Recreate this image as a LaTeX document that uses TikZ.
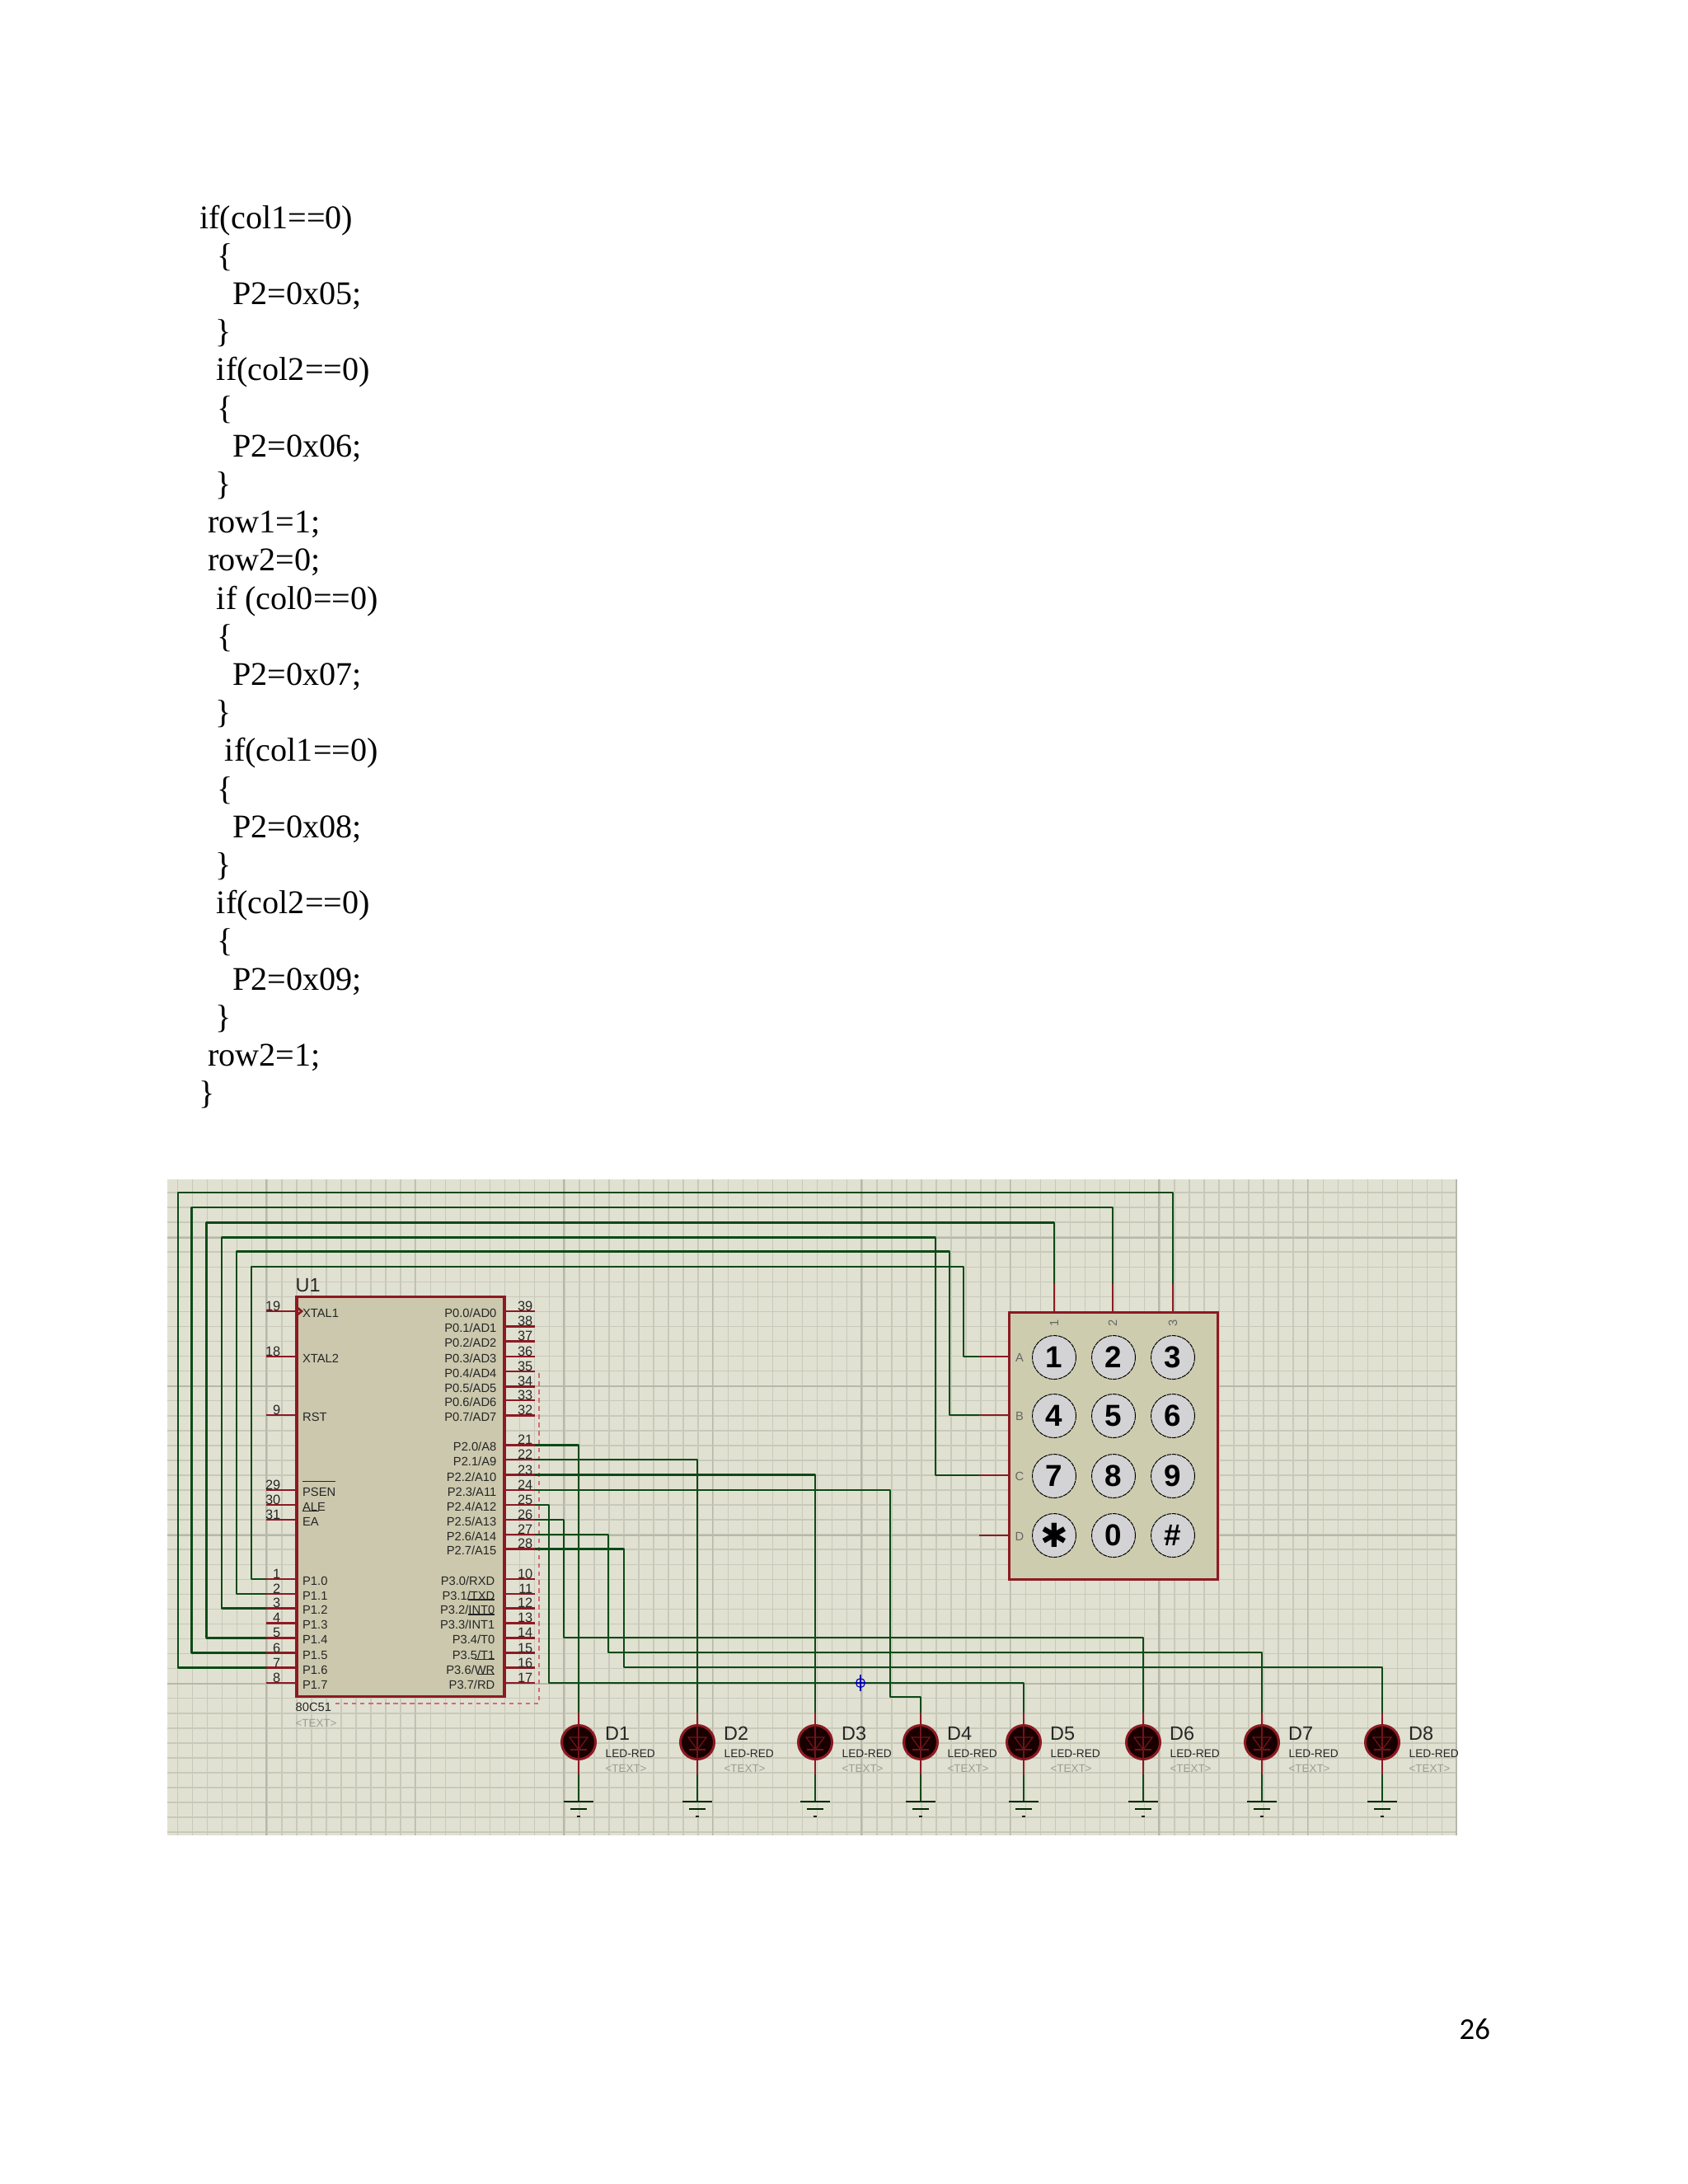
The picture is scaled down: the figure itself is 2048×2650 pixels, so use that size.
\documentclass[tikz,border=0pt]{standalone}
\usepackage{fontspec}
\setmainfont{Liberation Serif}
\newfontfamily\lblfont{Liberation Sans}
\newfontfamily\pagefont{Carlito}
\newfontfamily\symfont{DejaVu Sans}
\usepackage{xcolor}
\usepackage{tikz}
\usetikzlibrary{positioning,calc}
\def\pxu{0.29885pt}
\definecolor{sheetbg}{HTML}{E1E1D2}
\definecolor{sheetgrid}{HTML}{C8C9BA}
\definecolor{sheetmajor}{HTML}{B6B8AA}
\definecolor{chipfill}{HTML}{CBC8AD}
\definecolor{padfill}{HTML}{CDCCAE}
\definecolor{btnfill}{HTML}{D3D3D6}
\definecolor{wiregreen}{HTML}{0C4A16}
\definecolor{pinred}{HTML}{8C1A22}
\definecolor{dashred}{HTML}{D46A78}
\definecolor{lbltext}{HTML}{262626}
\definecolor{greytext}{HTML}{9C9C90}
\newcommand{\ovl}[1]{$\overline{\mbox{\rule{0pt}{3.9pt}#1}}$}
\tikzset{
codeline/.style={anchor=base west,inner sep=0pt,font=\fontsize{12}{14}\selectfont},
gridline/.style={draw=sheetgrid,line width=0.45pt},
majorline/.style={draw=sheetmajor,line width=0.55pt},
wire/.style={draw=wiregreen,line width=0.8pt,line join=round},
pinline/.style={draw=pinred,line width=0.8pt},
lbl/.style={inner sep=0pt,text=lbltext,font=\lblfont\fontsize{4.4}{5}\selectfont},
numlbl/.style={lbl,anchor=base east,font=\lblfont\fontsize{4.9}{5}\selectfont},
devname/.style={lbl,anchor=base west,font=\lblfont\fontsize{7}{8}\selectfont},
ledval/.style={lbl,anchor=base west,font=\lblfont\fontsize{4.1}{5}\selectfont},
greylbl/.style={lbl,anchor=base west,text=greytext,font=\lblfont\fontsize{4}{5}\selectfont},
chipbox/.style={draw=pinred,fill=chipfill,line width=0.9pt,outer sep=0pt,inner sep=0pt},
btn/.style={circle,draw=black,fill=btnfill,line width=0.3pt,dash pattern=on 1.6pt off 0.25pt,
  minimum size=53*\pxu,inner sep=0pt,outer sep=0pt,font=\lblfont\bfseries\fontsize{11}{12}\selectfont},
ledbody/.style={circle,draw=pinred,fill=black!90!red,line width=0.9pt,minimum size=41*\pxu,inner sep=0pt,outer sep=0pt},
diode/.style={draw=pinred!80!black,line width=0.35pt}
}
\begin{document}
\begin{tikzpicture}[x=\pxu,y=-\pxu]
\path[fill=white,use as bounding box] (0,0) rectangle (2048,2650);
\foreach \idx/\xx/\txt in {1/241.7/{if(col1==0)},2/262.7/{\{},3/281.7/{P2=0x05;},4/260.5/{\}},
5/262.3/{if(col2==0)},6/262.7/{\{},7/281.7/{P2=0x06;},8/260.5/{\}},
9/251.7/{row1=1;},10/251.7/{row2=0;},11/262.3/{if (col0==0)},12/262.7/{\{},13/281.7/{P2=0x07;},14/260.5/{\}},
15/272.3/{if(col1==0)},16/262.7/{\{},17/281.7/{P2=0x08;},18/260.5/{\}},
19/262.3/{if(col2==0)},20/262.7/{\{},21/281.7/{P2=0x09;},22/260.5/{\}},
23/251.7/{row2=1;},24/241/{\}}}
  \node[codeline] (code\idx) at (\xx,{277+(\idx-1)*46.2}) {\txt};
\node[anchor=base west,inner sep=0pt,font=\pagefont\fontsize{11}{13}\selectfont] (pagenum) at (1770,2474) {26};

\fill[sheetbg] (203,1431) rectangle (1767,2227);
\foreach \k in {-4,...,81}
  \draw[gridline] ({1677.5-\k*18.05},1431) -- ({1677.5-\k*18.05},2227);
\foreach \k in {0,...,43}
  \draw[gridline] (203,{1447+\k*18.05}) -- (1767,{1447+\k*18.05});
\foreach \k in {0,...,7}
  \draw[majorline] ({323+\k*180.5},1431) -- ({323+\k*180.5},2227);
\foreach \k in {0,...,3}
  \draw[majorline] (203,{1501.7+\k*180.5}) -- (1767,{1501.7+\k*180.5});
\draw[majorline,line width=0.7pt] (1767,1431) -- (1767,2227);

\node[chipbox,minimum width=252*\pxu,minimum height=485*\pxu] (U1) at (486,1815.5) {};
\node[devname] (U1name) at (358,1567) {U1};
\node[lbl,anchor=base west] (U1type) at (358,2076) {80C51};
\node[greylbl] (U1text) at (358,2095) {<TEXT>};
\foreach \num/\yy/\txt in {19/1591/XTAL1,18/1646/XTAL2,9/1717/RST,29/1808/\ovl{PSEN},30/1826/ALE,31/1844/\ovl{EA},
1/1916/P1.0,2/1934/P1.1,3/1951.3/P1.2,4/1969.3/P1.3,5/1987.3/P1.4,6/2005.7/P1.5,7/2023.7/P1.6,8/2042/P1.7}{
  \coordinate (pinL\num) at (323,\yy);
  \draw[pinline] (pinL\num) -- (pinL\num -| U1.west);
  \node[numlbl] (numL\num) at (341,\yy-0.5) {\num};
  \node[lbl,anchor=base west] (txtL\num) at (366.5,\yy+7.5) {\txt};
}
\foreach \num/\yy/\txt in {39/1591/{P0.0/AD0},38/1609.3/{P0.1/AD1},37/1627.3/{P0.2/AD2},36/1646/{P0.3/AD3},
35/1664/{P0.4/AD4},34/1682.3/{P0.5/AD5},33/1699/{P0.6/AD6},32/1717.3/{P0.7/AD7},
21/1753.3/{P2.0/A8},22/1771/{P2.1/A9},23/1789.7/{P2.2/A10},24/1808/{P2.3/A11},
25/1826/{P2.4/A12},26/1844/{P2.5/A13},27/1862/{P2.6/A14},28/1879.3/{P2.7/A15}}{
  \coordinate (pinR\num) at (649,\yy);
  \draw[pinline] (pinR\num) -- (pinR\num -| U1.east);
  \node[numlbl] (numR\num) at (647,\yy-0.5) {\num};
  \node[lbl,anchor=base east] (txtR\num) at (603,\yy+7.5) {\txt};
}
\foreach \num/\yy/\txt in {10/1916/{P3.0/RXD},11/1934/{P3.1/TXD},12/1951.3/{P3.2/\ovl{INT0}},13/1969.3/{P3.3/\ovl{INT1}},
14/1987.3/{P3.4/T0},15/2005.7/{P3.5/T1},16/2023.7/{P3.6/\ovl{WR}},17/2042/{P3.7/\ovl{RD}}}{
  \coordinate (pinR\num) at (649,\yy);
  \draw[pinline] (pinR\num) -- (pinR\num -| U1.east);
  \node[numlbl] (numR\num) at (647,\yy-0.5) {\num};
  \node[lbl,anchor=base east] (txtR\num) at (601,\yy+7.5) {\txt};
}
\draw[pinline] ($(pinL19 -| U1.west)+(0,-5)$) -- ($(pinL19 -| U1.west)+(6,0)$) -- ($(pinL19 -| U1.west)+(0,5)$);
\coordinate (dashA) at (407,2067);
\coordinate (dashB) at (654,2067);
\coordinate (dashC) at (654,1665);
\draw[dashred,line width=0.45pt,dash pattern=on 1.6pt off 1.4pt] (dashA) -- (dashB) -- (dashC);

\node[chipbox,fill=padfill,minimum width=253*\pxu,minimum height=324*\pxu] (KP) at (1350.5,1754) {};
\foreach \rowname/\yy in {A/1646,B/1717,C/1790,D/1863}{
  \coordinate (row\rowname) at (1188,\yy);
  \draw[pinline] (row\rowname) -- (row\rowname -| KP.west);
  \node[lbl,text=lbltext!70] (lbl\rowname) at (1237,\yy+1) {\rowname};
}
\foreach \colnum/\xx in {1/1279,2/1350,3/1423}{
  \coordinate (col\colnum) at (\xx,1558);
  \draw[pinline] (col\colnum) -- (col\colnum |- KP.north);
  \node[lbl,text=lbltext!70,rotate=90] (lblc\colnum) at (\xx,1605) {\colnum};
}
\node[btn] (b1) at (1279,1647) {1};
\node[btn] (b2) at (1351,1647) {2};
\node[btn] (b3) at (1423,1647) {3};
\node[btn] (b4) at (1279,1718) {4};
\node[btn] (b5) at (1351,1718) {5};
\node[btn] (b6) at (1423,1718) {6};
\node[btn] (b7) at (1279,1791) {7};
\node[btn] (b8) at (1351,1791) {8};
\node[btn] (b9) at (1423,1791) {9};
\node[btn,font=\symfont\fontsize{12}{12}\selectfont] (bstar) at (1279,1863) {✱};
\node[btn] (b0) at (1351,1863) {0};
\node[btn] (bhash) at (1423,1863) {\#};

\coordinate (wa) at (305,1537);
\coordinate (wb) at (287,1518.3);
\coordinate (wc) at (269,1501.7);
\coordinate (wd) at (250.7,1483.3);
\coordinate (we) at (232.3,1465);
\coordinate (wf) at (216,1447);
\coordinate (wg) at (1169,1537);
\coordinate (wh) at (1152,1518.3);
\coordinate (wi) at (1135,1501.7);
\draw[wire] (pinL1) -| (wa) -- (wg) |- (rowA);
\draw[wire] (pinL2) -| (wb) -- (wh) |- (rowB);
\draw[wire] (pinL3) -| (wc) -- (wi) |- (rowC);
\draw[wire] (pinL5) -| (wd) -| (col1);
\draw[wire] (pinL6) -| (we) -| (col2);
\draw[wire] (pinL7) -| (wf) -| (col3);

\foreach \n/\xx in {1/702,2/846,3/989,4/1117,5/1242,6/1387,7/1531,8/1677}{
  \node[ledbody] (D\n) at (\xx,2114) {};
  \coordinate (in\n) at (\xx,2078);
  \coordinate (out\n) at (\xx,2153);
  \coordinate (gnd\n) at (\xx,2186);
  \draw[pinline] (in\n) -- (D\n.north);
  \draw[pinline] (D\n.south) -- (out\n);
  \draw[wire] (out\n) -- (gnd\n);
  \draw[diode] (D\n.north) -- (D\n.south);
  \draw[diode] (\xx-11,2108) -- (\xx+11,2108) -- (\xx,2123) -- cycle;
  \draw[diode] (\xx-10,2123) -- (\xx+10,2123);
  \draw[wire,draw=black!85!green] (\xx-18,2186) -- (\xx+18,2186);
  \draw[wire,draw=black!85!green] (\xx-10,2195) -- (\xx+10,2195);
  \draw[wire,draw=black!85!green] (\xx-2,2204) -- (\xx+2,2204);
  \node[devname] (name\n) at (\xx+31.5,2111.7) {D\n};
  \node[ledval] (val\n) at (\xx+32,2132.7) {LED-RED};
  \node[greylbl] (txt\n) at (\xx+32,2150) {<TEXT>};
}
\coordinate (k4) at (1080,2059);
\coordinate (k5) at (666,2042);
\coordinate (k6) at (684,1987);
\coordinate (k7) at (738,2005);
\coordinate (k8) at (757,2023);
\draw[wire] (pinR21) -| (in1);
\draw[wire] (pinR22) -| (in2);
\draw[wire] (pinR23) -| (in3);
\draw[wire] (pinR24) -| (k4) -| (in4);
\draw[wire] (pinR25) -| (k5) -| (in5);
\draw[wire] (pinR26) -| (k6) -| (in6);
\draw[wire] (pinR27) -| (k7) -| (in7);
\draw[wire] (pinR28) -| (k8) -| (in8);

\node[circle,draw=blue!70!black,line width=0.35pt,minimum size=11*\pxu,inner sep=0pt] (cursor) at (1044,2042) {};
\draw[blue!70!black,line width=0.35pt] ($(cursor)+(0,-10)$) -- ($(cursor)+(0,10)$);
\draw[blue!70!black,line width=0.35pt] (cursor.west) -- (cursor.east);
\end{tikzpicture}
\end{document}
